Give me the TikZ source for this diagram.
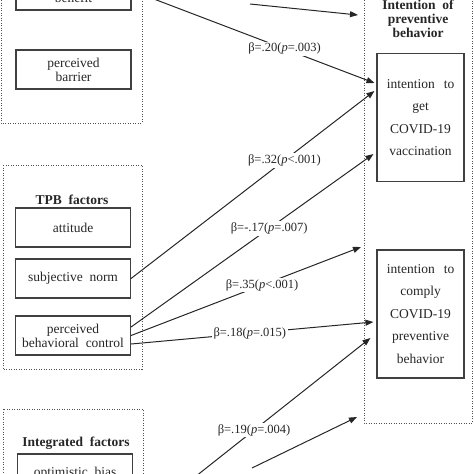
\documentclass[tikz,border=0pt]{standalone}
\usepackage{fontspec}
\setmainfont{Liberation Serif}
\usetikzlibrary{arrows.meta,calc}
\definecolor{inkgray}{HTML}{262626}
\definecolor{boxgray}{HTML}{404040}
\definecolor{dotgray}{HTML}{505050}

\begin{document}
\begin{tikzpicture}[
  x=1pt, y=-1pt,
  every node/.style={text=inkgray},
  factor/.style={draw=boxgray, line width=1.1pt, minimum width=115pt, minimum height=39pt,
    align=center, inner sep=1pt, font=\fontsize{13.5}{14}\selectfont},
  outcome/.style={draw=boxgray, line width=1.1pt, minimum width=87pt, minimum height=128pt,
    text width=85pt, align=center, inner sep=1pt, font=\fontsize{13.5}{22.5}\selectfont},
  group/.style={draw=dotgray, line width=0.9pt, dash pattern=on 0.9pt off 1.6pt},
  heading/.style={align=center, font=\bfseries\fontsize{13.5}{14}\selectfont},
  path/.style={draw=inkgray, line width=1pt, -{Triangle[length=8pt,width=6pt]}},
  beta/.style={fill=white, inner sep=1.5pt, font=\fontsize{12.5}{12}\selectfont},
]
\useasboundingbox (0,0) rectangle (474,474);
\clip (0,0) rectangle (474,474);

% groups
\draw[group] (1,-60) rectangle (142,123);
\draw[group] (3,165) rectangle (142,369);
\draw[group] (3,409) rectangle (143,540);
\draw[group] (364,-60) rectangle (472,423);

\node[heading] (tpbtitle) at (72,200) {TPB\ \ factors};
\node[heading] (inttitle) at (76,443) {Integrated\ \ factors};
\node[heading] (outtitle) at (418,19) {Intention\ \ of\\preventive\\behavior};

% factors
\node[factor] (benefit) at (73.5,-9.5) {perceived\\benefit};
\node[factor] (barrier) at (73.5,69.5) {perceived\\barrier};
\node[factor] (attitude) at (73,227.5) {attitude};
\node[factor] (subj) at (73,278.5) {subjective\ \ norm};
\node[factor] (pbc) at (73,335.5) {perceived\\behavioral\ \ control};
\node[factor] (optim) at (75,473.5) {optimistic\ \ bias};

% outcomes
\node[outcome] (vacc) at (420.5,117.5) {intention\ \ to\\get\\COVID-19\\vaccination};
\node[outcome] (comply) at (420.5,314) {intention\ \ to\\comply\\COVID-19\\preventive\\behavior};

% free ends and targets
\coordinate (topsrc) at (250,4);
\coordinate (lowsrc) at (133,526);
\coordinate (lowsrc2) at (252,468);
\coordinate (grptop) at (358,15);
\coordinate (grpmid) at (361,247);
\coordinate (grplow) at (357,417);

% paths
\draw[path] (benefit.east) -- node[beta, pos=0.63] {β=.20(\textit{p}=.003)} ($(vacc.west)+(-2,-34.5)$);
\draw[path] (topsrc) -- (grptop);
\draw[path] (subj.east) -- node[beta, pos=0.63] {β=.32(\textit{p}<.001)} ($(vacc.west)+(-2,-26.5)$);
\draw[path] ($(pbc.east)+(0,-8.5)$) -- node[beta, pos=0.57] {β=-.17(\textit{p}=.007)} ($(vacc.west)+(-3,36.5)$);
\draw[path] (pbc.east) -- node[beta, pos=0.57] {β=.35(\textit{p}<.001)} (grpmid);
\draw[path] ($(pbc.east)+(0,8.5)$) -- node[beta, pos=0.49] {β=.18(\textit{p}=.015)} ($(comply.west)+(-3,8)$);
\draw[path] (lowsrc) -- node[beta, pos=0.51] {β=.19(\textit{p}=.004)} ($(comply.west)+(-6,24)$);
\draw[path] (lowsrc2) -- (grplow);
\end{tikzpicture}
\end{document}
